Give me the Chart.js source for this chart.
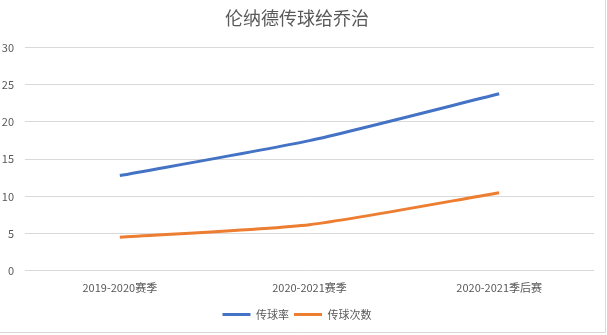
<!DOCTYPE html>
<html>
<head>
<meta charset="utf-8">
<script src="https://cdn.jsdelivr.net/npm/chart.js@4/dist/chart.umd.min.js"></script>
<style>
    html, body { margin: 0; padding: 0; background: #fff; }
    #caixa { width: 607px; height: 335px; position: relative; }
</style>
</head>
<body>
<div id="caixa"><canvas id="grafico"></canvas></div>
<script>
// dados do gráfico
const categorias = ["2019-2020赛季", "2020-2021赛季", "2020-2021季后赛"];
const taxaPasse = [12.8, 17.5, 23.8];
const numeroPasses = [4.5, 6.2, 10.5];
const nomesSeries = ["传球率", "传球次数"];
const titulo = "伦纳德传球给乔治";

const corTexto = "#595959";
const fonte = "'Noto Sans CJK SC', 'Liberation Sans', sans-serif";

// borda cinza à direita e embaixo, como no Excel
const bordaPlugin = {
    id: "borda",
    afterDraw(chart) {
        const ctx = chart.ctx;
        ctx.save();
        ctx.strokeStyle = "#d9d9d9";
        ctx.lineWidth = 1;
        ctx.beginPath();
        ctx.moveTo(605.5, 0);
        ctx.lineTo(605.5, 332.5);
        ctx.lineTo(0, 332.5);
        ctx.stroke();
        ctx.restore();
    }
};

new Chart(document.getElementById("grafico"), {
    type: "line",
    data: {
        labels: categorias,
        datasets: [
            {
                label: nomesSeries[0],
                data: taxaPasse,
                borderColor: "#4472C4",
                backgroundColor: "#4472C4",
                borderWidth: 3,
                pointRadius: 0,
                tension: 0.2
            },
            {
                label: nomesSeries[1],
                data: numeroPasses,
                borderColor: "#ED7D31",
                backgroundColor: "#ED7D31",
                borderWidth: 3,
                pointRadius: 0,
                tension: 0.2
            }
        ]
    },
    options: {
        responsive: true,
        maintainAspectRatio: false,
        animation: false,
        layout: {
            padding: { left: 0, right: 13, top: 0, bottom: 5 }
        },
        plugins: {
            title: {
                display: true,
                text: titulo,
                color: corTexto,
                font: { family: fonte, size: 18, weight: "normal" },
                padding: { top: 7, bottom: 19 }
            },
            legend: {
                position: "bottom",
                labels: {
                    color: corTexto,
                    font: { family: fonte, size: 11 },
                    usePointStyle: true,
                    pointStyle: "line",
                    pointStyleWidth: 28,
                    boxHeight: 11,
                    padding: 5
                }
            },
            tooltip: { enabled: false }
        },
        scales: {
            x: {
                offset: true,
                grid: { display: false, drawTicks: false },
                border: { display: false },
                ticks: {
                    color: corTexto,
                    font: { family: fonte, size: 11 },
                    padding: 10,
                    maxRotation: 0
                }
            },
            y: {
                min: 0,
                max: 30,
                grid: { color: "#d9d9d9", drawTicks: false },
                border: { display: false },
                ticks: {
                    stepSize: 5,
                    color: corTexto,
                    font: { family: fonte, size: 11 },
                    padding: 11
                },
                afterFit(escala) {
                    escala.width = 25;
                }
            }
        }
    },
    plugins: [bordaPlugin]
});
</script>
</body>
</html>
